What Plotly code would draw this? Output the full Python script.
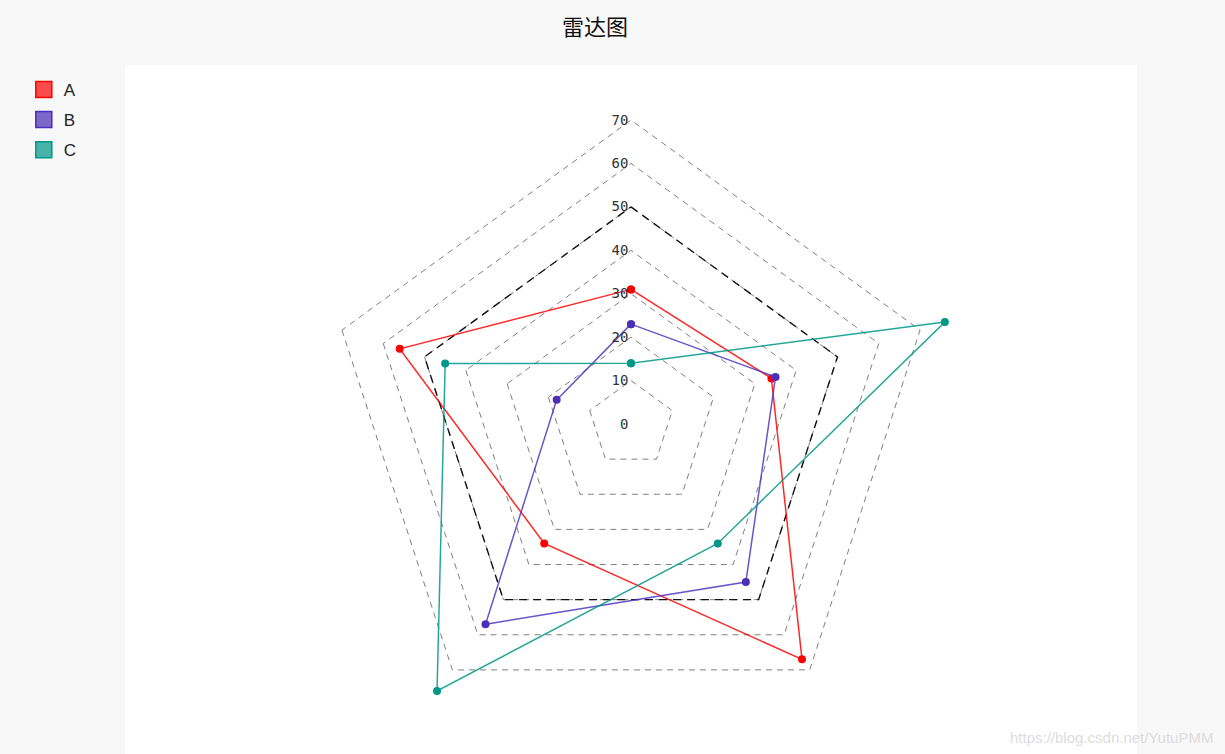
import plotly.graph_objects as go

# ---- data ----
categories = ["维度1", "维度2", "维度3", "维度4", "维度5"]
series_names = ["A", "B", "C"]
values_a = [31, 34, 67, 34, 56]
values_b = [23, 35, 45, 57, 18]
values_c = [14, 76, 34, 76, 45]
radial_ticks = [0, 10, 20, 30, 40, 50, 60, 70]
emphasis_level = 50
title_text = "雷达图"
watermark = "https://blog.csdn.net/YutuPMM"

line_colors = ["rgba(255,0,0,0.85)", "rgba(80,55,190,0.85)", "rgba(0,150,136,0.85)"]
marker_colors = ["#ff0000", "#4b2fb8", "#009688"]
legend_fill = ["rgba(255,0,0,0.7)", "rgba(70,44,181,0.7)", "rgba(0,150,136,0.7)"]

all_values = [values_a, values_b, values_c]

fig = go.Figure()

# emphasised grid level
fig.add_trace(go.Scatterpolar(
    r=[emphasis_level] * (len(categories) + 1),
    theta=categories + categories[:1],
    mode="lines",
    line=dict(color="#111111", width=1.4, dash="8px,6px"),
    hoverinfo="skip", showlegend=False,
))

for name, vals, lc, mc in zip(series_names, all_values, line_colors, marker_colors):
    fig.add_trace(go.Scatterpolar(
        r=vals + vals[:1],
        theta=categories + categories[:1],
        mode="lines+markers",
        name=name,
        legendgroup=name,
        showlegend=False,
        cliponaxis=False,
        line=dict(color=lc, width=1.5),
        marker=dict(color=mc, size=8),
    ))

# legend entries (square swatches)
for name, fc, mc in zip(series_names, legend_fill, marker_colors):
    fig.add_trace(go.Scatterpolar(
        r=[None], theta=[None], mode="markers", name=name, legendgroup=name,
        marker=dict(symbol="square", size=17, color=fc, line=dict(color=mc, width=1.5)),
    ))

fig.update_layout(
    width=1225, height=754,
    paper_bgcolor="#f8f8f8",
    margin=dict(l=125, r=88, t=65, b=0),
    title=dict(text=title_text, x=595 / 1225, xanchor="center", y=1 - 27 / 754, yanchor="middle",
               font=dict(family="Noto Sans CJK SC", size=22, color="#111111")),
    showlegend=True,
    legend=dict(x=-0.1, xanchor="left", y=0.99, yanchor="top",
                font=dict(family="Liberation Sans", size=17, color="#222222"),
                bgcolor="rgba(0,0,0,0)", tracegroupgap=5, itemsizing="trace", itemwidth=30),
    polar=dict(
        domain=dict(x=[0, 1], y=[0, 660 / 689]),
        bgcolor="white",
        gridshape="linear",
        radialaxis=dict(range=[0, 76], tickvals=radial_ticks, angle=90, tickangle=90,
                        side="counterclockwise", showline=False, ticks="",
                        gridcolor="#808080", griddash="6px,5px", gridwidth=1.4,
                        tickfont=dict(family="DejaVu Sans Mono", size=14, color="#333333")),
        angularaxis=dict(direction="clockwise", rotation=90, showline=False,
                         showgrid=False, showticklabels=False, ticks=""),
    ),
    shapes=[dict(type="rect", xref="paper", yref="paper", x0=0, x1=1, y0=0, y1=1,
                 fillcolor="white", line=dict(width=0), layer="below")],
    annotations=[dict(text=watermark, xref="paper", yref="paper",
                      x=(1215 - 125) / 1012, y=(754 - 737) / 689, xanchor="right", yanchor="middle",
                      showarrow=False, font=dict(family="Liberation Sans", size=15, color="#dddddd"))],
)

fig.write_html("out.html", config={"displayModeBar": False},
               post_script="document.body.style.margin='0';document.body.style.background='#f8f8f8';")
